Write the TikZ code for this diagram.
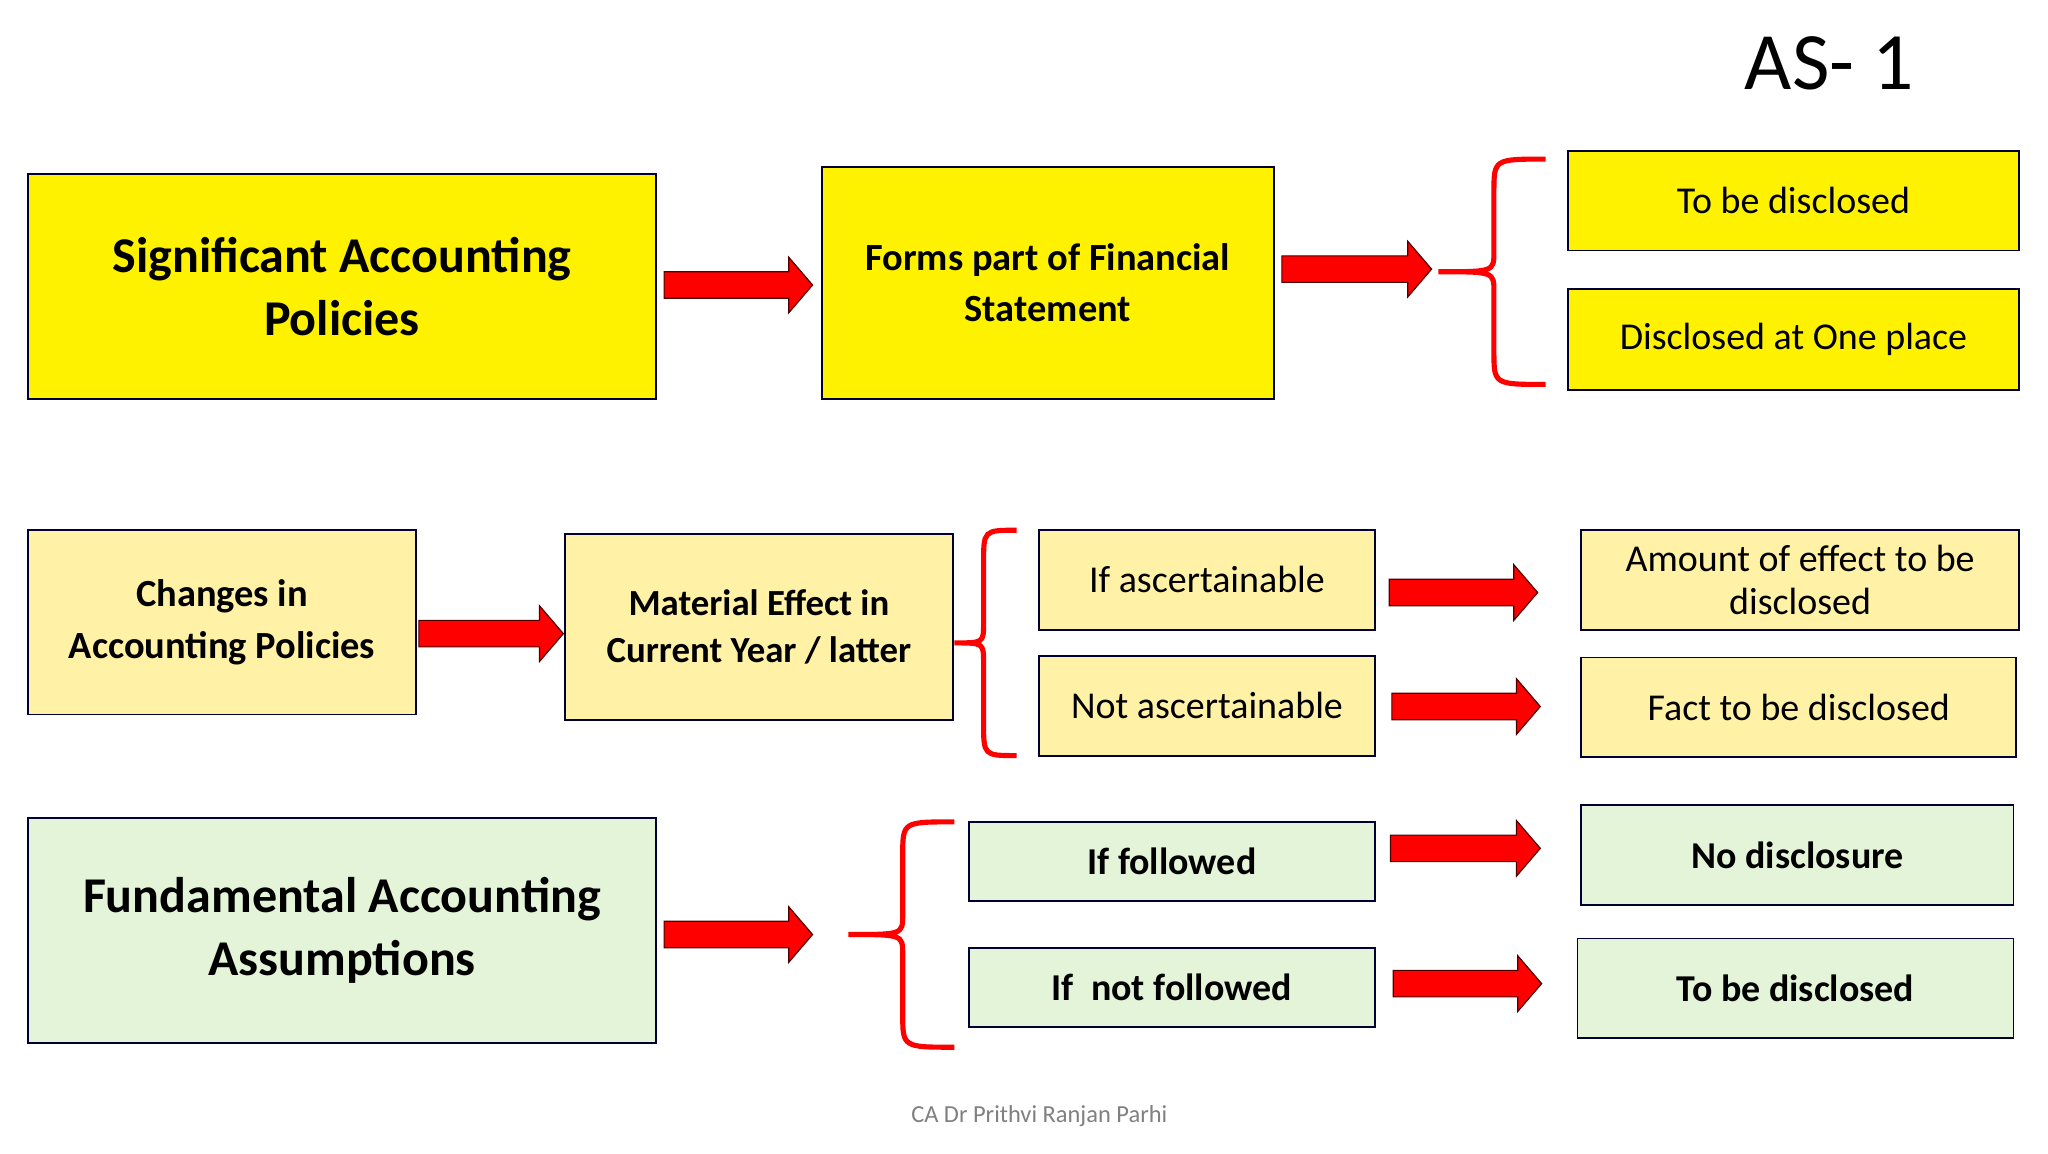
\documentclass[tikz,border=0pt]{standalone}
\usepackage{fontspec}
\setmainfont{Carlito}
\tikzset{x=0.02cm,y=-0.02cm,
 box/.style={draw=black!80!blue,line width=0.8pt,align=center,inner sep=0pt},
 yel/.style={box,fill=yellow},
 org/.style={box,fill=orange!30!yellow!35},
 grn/.style={box,fill=green!40!olive!15},
 big/.style={font=\fontsize{21.5}{27}\selectfont\bfseries},
 mid/.style={font=\fontsize{16.5}{22}\selectfont\bfseries},
 reg/.style={font=\fontsize{16.3}{18.5}\selectfont},
 regb/.style={font=\fontsize{16.3}{18.5}\selectfont\bfseries},
 barrow/.style={fill=red,draw=black!70!red,line width=0.5pt,line join=miter},
 brc/.style={draw=red,line width=2.2pt}}
\newcommand\mkbox[6]{\node[#1,minimum width=(#4-#2)*0.02cm,minimum height=(#5-#3)*0.02cm] (#6) at ({(#2+#4)/2},{(#3+#5)/2})}
\newcommand\barr[3]{\pgfmathsetmacro\L{#2-#1-18}\draw[barrow] (#1,#3-10) -- ++(\L,0) -- ++(0,-11) -- (#2,#3) -- ++(-18,21) -- ++(0,-11) -- (#1,#3+10) -- cycle;}
\newcommand\mybrace[5]{% xl xm xr top bot
 \pgfmathsetmacro\mid{(#4+#5)/2}
 \draw[brc] (#3,#4) .. controls (#2,#4) .. (#2,#4+25) -- (#2,\mid-15) .. controls (#2,\mid) .. (#1,\mid) .. controls (#2,\mid) .. (#2,\mid+15) -- (#2,#5-25) .. controls (#2,#5) .. (#3,#5);}
\begin{document}
\begin{tikzpicture}
\useasboundingbox (0,0) rectangle (1545,870);
\fill[white] (0,0) rectangle (1545,870);
\node[font=\fontsize{35}{40}\selectfont] (t) at (1380,48) {AS- 1};
\mkbox{yel,big}{21}{131}{495}{301}{sap} {Significant Accounting\\Policies};
\mkbox{yel,mid}{620}{126}{961}{301}{fp} {Forms part of Financial\\Statement};
\mkbox{yel,reg}{1183}{114}{1523}{189}{tbd} {To be disclosed};
\mkbox{yel,reg}{1183}{218}{1523}{294}{dop} {Disclosed at One place};
\mkbox{org,mid}{21}{400}{314}{539}{cap} {Changes in\\Accounting Policies};
\mkbox{org,mid,font=\fontsize{15.8}{20.5}\selectfont\bfseries}{426}{403}{719}{543}{me} {Material Effect in\\Current Year / latter};
\mkbox{org,reg}{784}{400}{1037}{475}{ia} {If ascertainable};
\mkbox{org,reg}{784}{495}{1037}{570}{na} {Not ascertainable};
\mkbox{org,reg}{1193}{400}{1523}{475}{am} {Amount of effect to be\\disclosed};
\mkbox{org,reg}{1193}{496}{1521}{571}{fa} {Fact to be disclosed};
\mkbox{grn,big}{21}{617}{495}{787}{faa} {Fundamental Accounting\\Assumptions};
\mkbox{grn,regb}{731}{620}{1037}{680}{iff} {If followed};
\mkbox{grn,regb}{731}{715}{1037}{775}{inf} {If~ not followed};
\mkbox{grn,regb}{1193}{607}{1519}{683}{nd} {No disclosure};
\mkbox{grn,regb}{1190}{708}{1519}{783}{tbd2} {To be disclosed};
\barr{501}{613}{215}
\barr{967}{1080}{203}
\barr{316}{425}{478}
\barr{1048}{1160}{447}
\barr{1050}{1162}{533}
\barr{501}{613}{705}
\barr{1049}{1162}{640}
\barr{1051}{1163}{742}
\mybrace{1085}{1127}{1166}{120}{290}
\mybrace{720}{742}{767}{400}{570}
\mybrace{640}{681}{720}{620}{790}
\node[text=black!50,font=\fontsize{10.5}{12}\selectfont] (ft) at (784,842) {CA Dr Prithvi Ranjan Parhi};
\end{tikzpicture}
\end{document}
